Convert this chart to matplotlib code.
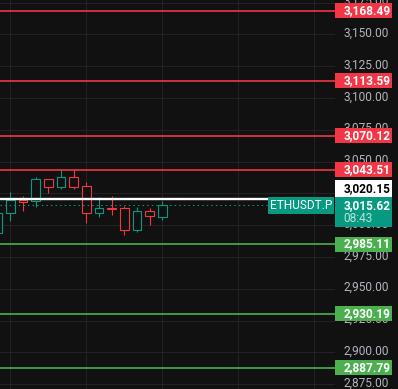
import matplotlib
matplotlib.use("Agg")
import matplotlib.pyplot as plt
import matplotlib.transforms as mtransforms
from matplotlib.patches import Rectangle

# 5m candles, oldest first
opens  = [2994.0, 3009.3, 3019.7, 3018.7, 3036.0, 3030.2, 3037.6, 3030.5, 3009.3, 3013.2, 3013.2, 2996.4, 3010.8, 3006.6]
highs  = [3012.0, 3025.8, 3022.9, 3037.8, 3036.2, 3043.3, 3043.3, 3033.9, 3022.1, 3022.9, 3015.3, 3014.2, 3013.2, 3018.7]
lows   = [2990.0, 3003.5, 3011.3, 3014.5, 3025.5, 3028.6, 3028.6, 3001.9, 3006.1, 3007.9, 2992.5, 2994.8, 3000.3, 3004.2]
closes = [3009.3, 3019.7, 3017.9, 3036.0, 3030.2, 3037.6, 3030.2, 3009.3, 3013.2, 3013.0, 2996.4, 3011.1, 3006.9, 3015.62]

red_levels = [3168.49, 3113.59, 3070.12, 3043.51]
green_levels = [2985.11, 2930.19, 2887.79]
ask_price = 3020.15
last_price = 3015.62
countdown = "08:43"
symbol = "ETHUSDT.P"
tick_values = [2875, 2900, 2925, 2950, 2975, 3000, 3025, 3050, 3075, 3100, 3125, 3150, 3175]
grid_bars = [1, 7, 13, 19, 25]

# colours / layout
BG = "#111111"
GRID = "#222222"
RED = "#F23645"
GREEN = "#4CAF50"
TEAL = "#089981"
AXIS_TXT = "#B2B5BE"
W, H, DPI = 398, 389, 100
PANE_W = 335          # px width of the candle pane
BAR_PX = 12.67        # px per bar
BAR1_PX = 10.3        # x of bar 1
YLIM = (2871.15, 3176.97)
FS = 8.6              # ~12 px

plt.rcParams['font.family'] = ['Roboto', 'DejaVu Sans']

fig = plt.figure(figsize=(W / DPI, H / DPI), dpi=DPI, facecolor=BG)
ax = fig.add_axes([0, 0, PANE_W / W, 1])
ax.set_facecolor(BG)
x0 = 1 - BAR1_PX / BAR_PX
ax.set_xlim(x0, x0 + PANE_W / BAR_PX)
ax.set_ylim(*YLIM)
for s in ax.spines.values():
    s.set_visible(False)
ax.set_xticks([])
ax.set_yticks([])

upp = (YLIM[1] - YLIM[0]) / H   # price units per pixel

# grid
for v in tick_values:
    ax.axhline(v, color=GRID, lw=0.8, zorder=0)
for b in grid_bars:
    ax.axvline(b, color=GRID, lw=0.8, zorder=0)

# candles (hollow)
bw = 8.7 / BAR_PX
for i, (o, h, l, c) in enumerate(zip(opens, highs, lows, closes)):
    col = TEAL if c >= o else RED
    top, bot = max(o, c), min(o, c)
    ax.vlines(i, top, h, color=col, lw=0.8, zorder=3)
    ax.vlines(i, l, bot, color=col, lw=0.8, zorder=3)
    ax.add_patch(Rectangle((i - bw / 2, bot), bw, max(top - bot, 0.3),
                           facecolor=BG, edgecolor=col, lw=0.8, zorder=4))

# alert levels
for v in red_levels:
    ax.axhline(v, color=RED, lw=1.2, zorder=2)
for v in green_levels:
    ax.axhline(v, color=GREEN, lw=1.2, zorder=2)

sym_x = 267.7
ax.axhline(ask_price, xmax=sym_x / PANE_W, color="white", lw=1.7, zorder=5)
ax.axhline(last_price, xmax=sym_x / PANE_W, color=TEAL, lw=0.75,
           linestyle=(0, (1.4, 3)), zorder=5)

# price axis
trans = mtransforms.blended_transform_factory(fig.transFigure, ax.transData)
LBL_X0, LBL_X1, TXT_X = 335, 392.0, 343.5

for v in tick_values:
    fig.text(TXT_X / W, v + 1 * upp, f"{v:,.2f}", transform=trans, color=AXIS_TXT,
             fontsize=FS, ha="left", va="center", zorder=1)


def label(value, text, face, color, up_px=7.5, down_px=7.5):
    fig.add_artist(Rectangle((LBL_X0 / W, value - down_px * upp), (LBL_X1 - LBL_X0) / W,
                             (up_px + down_px) * upp, transform=trans,
                             facecolor=face, edgecolor="none", zorder=5))
    fig.text(TXT_X / W, value + (up_px - down_px) / 2 * upp, text, transform=trans,
             color=color, fontsize=FS, fontweight="bold", ha="left", va="center", zorder=6)


for v in red_levels:
    label(v, f"{v:,.2f}", RED, "white")
for v in green_levels:
    label(v, f"{v:,.2f}", GREEN, "white")

# ask label sits just above the last-price block
label(ask_price, f"{ask_price:,.2f}", "white", "black", up_px=19.5, down_px=-2.8)

# last price + countdown
fig.add_artist(Rectangle((LBL_X0 / W, last_price - 22 * upp), (LBL_X1 - LBL_X0) / W,
                         30.6 * upp, transform=trans, facecolor=TEAL,
                         edgecolor="none", zorder=5))
fig.text(TXT_X / W, last_price, f"{last_price:,.2f}", transform=trans, color="white",
         fontsize=FS, fontweight="bold", ha="left", va="center", zorder=6)
fig.text(TXT_X / W, last_price - 13 * upp, countdown, transform=trans, color="#B5E3DA",
         fontsize=FS, ha="left", va="center", zorder=6)

# symbol tag
fig.add_artist(Rectangle((sym_x / W, last_price - 8.4 * upp), (334 - sym_x) / W,
                         16.7 * upp, transform=trans, facecolor=TEAL,
                         edgecolor="none", zorder=5))
fig.text((sym_x + 33) / W, last_price, symbol, transform=trans, color="white",
         fontsize=FS, ha="center", va="center", zorder=6)

fig.savefig("out.png", dpi=DPI, facecolor=BG)
